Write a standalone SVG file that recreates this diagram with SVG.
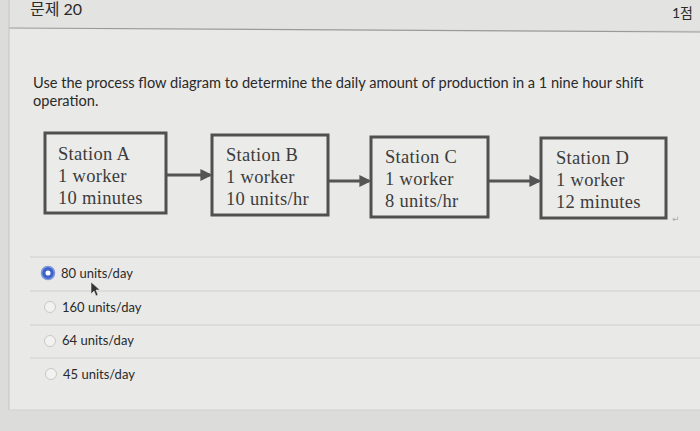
<svg xmlns="http://www.w3.org/2000/svg" width="700" height="431" viewBox="0 0 700 431">
<defs>
<style>
.ui{font-family:Lato,"Noto Sans","Noto Sans CJK KR",sans-serif;fill:#2a2a2a}
.st{font-family:"Liberation Serif","DejaVu Serif",serif;font-size:18.5px;letter-spacing:0.3px;fill:#3c3c3c}
.box{fill:#ebebea;stroke:#505050;stroke-width:3}
.conn{stroke:#555;stroke-width:3;fill:none}
.sep{stroke:#cfcfcd;stroke-width:1}
.radio{fill:#f2f2f0;stroke:#c8c8c6;stroke-width:1}
</style>
<marker id="ah" markerWidth="4" markerHeight="4" refX="3.2" refY="2" orient="auto" markerUnits="strokeWidth">
<path d="M0,0 L4,2 L0,4 z" fill="#555"/>
</marker>
</defs>
<rect x="0" y="0" width="700" height="431" fill="#dcdcda"/>
<rect x="9" y="0" width="691" height="30" fill="#e3e3e1"/>
<polygon points="9,28 700,32 700,410 9,410" fill="#e9e9e7"/>
<line x1="9" y1="28" x2="700" y2="32" stroke="#9a9a98" stroke-width="1.2"/>
<line x1="9" y1="0" x2="9" y2="410" stroke="#c4c4c2" stroke-width="1"/>
<line x1="9" y1="410" x2="700" y2="410" stroke="#d0d0ce" stroke-width="1"/>
<text class="ui" x="30" y="15" font-size="16">문제 20</text>
<text class="ui" x="672" y="18" font-size="14">1점</text>
<text class="ui" x="33" y="88" font-size="14.6">Use the process flow diagram to determine the daily amount of production in a 1 nine hour shift</text>
<text class="ui" x="33" y="106" font-size="14.6">operation.</text>
<g id="conns">
<line class="conn" x1="167" y1="175" x2="210" y2="175" marker-end="url(#ah)"/>
<line class="conn" x1="329" y1="181" x2="369" y2="181" marker-end="url(#ah)"/>
<line class="conn" x1="489" y1="181" x2="539" y2="181" marker-end="url(#ah)"/>
</g>
<g id="stationA">
<rect class="box" x="45" y="133" width="121" height="80"/>
<text class="st" x="58" y="160">Station A</text>
<text class="st" x="58" y="182">1 worker</text>
<text class="st" x="58" y="204">10 minutes</text>
</g>
<g id="stationB">
<rect class="box" x="212" y="135" width="116" height="80"/>
<text class="st" x="226" y="161">Station B</text>
<text class="st" x="226" y="183">1 worker</text>
<text class="st" x="226" y="205">10 units/hr</text>
</g>
<g id="stationC">
<rect class="box" x="371" y="137" width="117" height="80"/>
<text class="st" x="385" y="163">Station C</text>
<text class="st" x="385" y="185">1 worker</text>
<text class="st" x="385" y="207">8 units/hr</text>
</g>
<g id="stationD">
<rect class="box" x="541" y="138" width="125" height="80"/>
<text class="st" x="556" y="164">Station D</text>
<text class="st" x="556" y="186">1 worker</text>
<text class="st" x="556" y="208">12 minutes</text>
</g>
<text x="672" y="222" font-family="DejaVu Sans,sans-serif" font-size="9" fill="#aaa">↵</text>
<line class="sep" x1="30" y1="257" x2="700" y2="257"/>
<line class="sep" x1="30" y1="291" x2="700" y2="291"/>
<line class="sep" x1="30" y1="325" x2="700" y2="325"/>
<line class="sep" x1="30" y1="358" x2="700" y2="358"/>
<circle cx="48" cy="273" r="6.5" fill="#3f63c8" stroke="#7c95dc" stroke-width="1.5"/>
<circle cx="48" cy="273" r="2.5" fill="#fff"/>
<text class="ui" x="61" y="278" font-size="13">80 units/day</text>
<path d="M91,282 L91,294 L94,291 L96,296 L98,295 L96,290 L100,290 z" fill="#333" stroke="#eee" stroke-width="0.6"/>
<circle class="radio" cx="50" cy="307" r="5.5"/>
<text class="ui" x="62" y="312" font-size="13">160 units/day</text>
<circle class="radio" cx="50" cy="341" r="5.5"/>
<text class="ui" x="62" y="345" font-size="13">64 units/day</text>
<circle class="radio" cx="51" cy="374" r="5.5"/>
<text class="ui" x="63" y="379" font-size="13">45 units/day</text>
</svg>
